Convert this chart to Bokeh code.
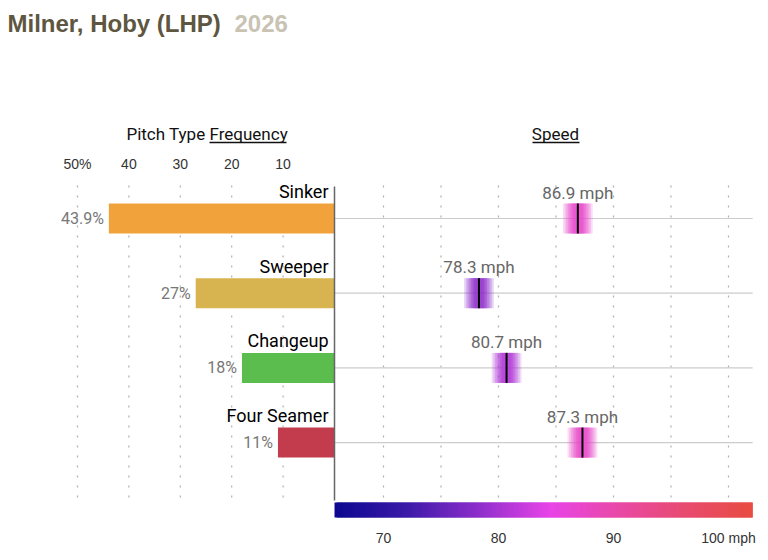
from bokeh.plotting import figure
from bokeh.models import Range1d, ColumnDataSource
from bokeh.core.properties import value
from bokeh.embed import file_html
from bokeh.resources import INLINE

# ---------------- data ----------------
pitch_types = ["Sinker", "Sweeper", "Changeup", "Four Seamer"]
frequency = [43.9, 27, 18, 11]
freq_labels = ["43.9%", "27%", "18%", "11%"]
speed = [86.9, 78.3, 80.7, 87.3]
bar_colors = ["#f2a23a", "#d7b450", "#5bbd4d", "#c23c4e"]

freq_ticks = [50, 40, 30, 20, 10]
freq_tick_labels = ["50%", "40", "30", "20", "10"]
speed_grid = [70, 75, 80, 85, 90, 95, 100]
speed_ticks = [70, 80, 90, 100]
speed_tick_labels = ["70", "80", "90", "100 mph"]

title_main = "Milner, Hoby (LHP)"
title_year = "2026"

# colour scale for speed
SPEED_MIN, SPEED_MAX = 65.74, 102.1
cmap_stops = [(65.74, "#0b0890"), (72.0, "#3b1aa8"), (78.0, "#8a2dca"),
              (84.5, "#e844e8"), (90.0, "#e849aa"), (96.0, "#e84b72"),
              (102.1, "#e84c40")]


def hex2rgb(h):
    h = h.lstrip("#")
    return tuple(int(h[i:i + 2], 16) for i in (0, 2, 4))


def speed_color(v):
    v = min(max(v, cmap_stops[0][0]), cmap_stops[-1][0])
    for (a, ca), (b, cb) in zip(cmap_stops[:-1], cmap_stops[1:]):
        if a <= v <= b:
            t = (v - a) / (b - a)
            r1, g1, b1 = hex2rgb(ca)
            r2, g2, b2 = hex2rgb(cb)
            return "#%02x%02x%02x" % (round(r1 + (r2 - r1) * t),
                                       round(g1 + (g2 - g1) * t),
                                       round(b1 + (b2 - b1) * t))
    return cmap_stops[-1][1]


# ---------------- layout helpers (picture pixels -> data) ----------------
ROW0, ROW_STEP = 218.0, 74.7
PX_PER_PCT, ZERO_X = 5.14, 334.0
PX_PER_MPH, X70 = 11.5, 383.0


def Y(py):
    return (py - ROW0) / ROW_STEP


def FX(px):
    return (ZERO_X - px) / PX_PER_PCT


def SX(px):
    return 70 + (px - X70) / PX_PER_MPH


W, H = 760, 552
p = figure(width=W, height=H, output_backend="svg", toolbar_location=None,
           x_range=Range1d(FX(0), FX(W)),
           y_range=Range1d(Y(H), Y(0)),
           min_border=0, min_border_left=0, min_border_right=0,
           min_border_top=0, min_border_bottom=0)
p.extra_x_ranges = {"speed": Range1d(SX(0), SX(W))}
p.xaxis.visible = False
p.yaxis.visible = False
p.xgrid.visible = False
p.ygrid.visible = False
p.outline_line_color = None
p.background_fill_color = "white"
p.border_fill_color = "white"

rows = list(range(len(pitch_types)))
BAR_H = 30 / ROW_STEP
grid_top, grid_bot = Y(185), Y(500)

# dotted grid lines
p.segment(x0=freq_ticks, x1=freq_ticks, y0=[grid_top] * len(freq_ticks),
          y1=[grid_bot] * len(freq_ticks), line_color="#b0b0b0",
          line_width=1.2, line_dash="2 8")
p.segment(x0=speed_grid, x1=speed_grid, y0=[grid_top] * len(speed_grid),
          y1=[grid_bot] * len(speed_grid), line_color="#b0b0b0",
          line_width=1.2, line_dash="2 8", x_range_name="speed")

# horizontal row lines (speed side)
p.segment(x0=[SPEED_MIN] * len(rows), x1=[SPEED_MAX] * len(rows), y0=rows,
          y1=rows, line_color="#cccccc", line_width=1.2, x_range_name="speed")

# frequency bars
src = ColumnDataSource(dict(y=rows, f=frequency, c=bar_colors, lab=freq_labels,
                            name=pitch_types, s=speed,
                            slab=["%.1f mph" % v for v in speed],
                            sc=[speed_color(v) for v in speed],
                            y0=[r - BAR_H / 2 for r in rows],
                            y1=[r + BAR_H / 2 for r in rows]))
p.hbar(y="y", left=0, right="f", height=BAR_H, fill_color="c",
       line_color=None, source=src)

# central axis line
p.segment(x0=[0], x1=[0], y0=[Y(186)], y1=[Y(500)], line_color="#666666",
          line_width=1.5)

# percent labels
p.text(x="f", y="y", text="lab", source=src, x_offset=-5,
       text_align="right", text_baseline="middle", text_font=value("Roboto"),
       text_font_size="16px", text_font_style="normal", text_color="#777777")

# pitch names
p.text(x=[FX(328)] * len(rows), y=rows, text=pitch_types, y_offset=-27,
       text_align="right", text_baseline="middle",
       text_font=value("Roboto"), text_font_size="18px",
       text_font_style="normal", text_color="#000000")

# speed markers: soft-edged blocks coloured by speed
for wmph, alpha in [(2.6, 0.18), (2.3, 0.2), (2.0, 0.22), (1.7, 0.25),
                    (1.4, 0.3), (1.1, 0.35), (0.8, 0.4)]:
    p.rect(x="s", y="y", width=wmph, height=BAR_H, fill_color="sc",
           fill_alpha=alpha, line_color=None, source=src,
           x_range_name="speed")
p.segment(x0="s", x1="s", y0="y0", y1="y1", line_color="black",
          line_width=2, source=src, x_range_name="speed")
p.text(x="s", y="y", text="slab", source=src, y_offset=-26,
       text_align="center", text_baseline="middle",
       text_font=value("Roboto"), text_font_size="17px",
       text_color="#666666", x_range_name="speed")

# colour bar
step = 0.2
n = int((SPEED_MAX - SPEED_MIN) / step) + 1
lefts = [SPEED_MIN + i * step for i in range(n)]
rights = [min(l + 2 * step, SPEED_MAX) for l in lefts]
cols = [speed_color(l + step / 2) for l in lefts]
p.quad(left=lefts, right=rights, bottom=[Y(517)] * n, top=[Y(502)] * n,
       fill_color=cols, line_color=None, x_range_name="speed")

# colour bar tick labels
p.text(x=speed_ticks, y=[Y(537)] * len(speed_ticks), text=speed_tick_labels,
       text_align="center", text_baseline="middle",
       text_font=value("Liberation Sans"), text_font_size="14px",
       text_color="#333333", x_range_name="speed")

# frequency tick labels
p.text(x=freq_ticks, y=[Y(163)] * len(freq_ticks), text=freq_tick_labels,
       text_align="center", text_baseline="middle",
       text_font=value("Liberation Sans"), text_font_size="14px",
       text_color="#333333")

# headers
p.text(x=[FX(205)], y=[Y(133)], text=["Pitch Type"], text_align="right",
       text_baseline="middle", text_font=value("Roboto"),
       text_font_size="17px", text_color="#111111")
p.text(x=[FX(209)], y=[Y(133)], text=["Frequency"], text_align="left",
       text_baseline="middle", text_font=value("Roboto"),
       text_font_size="17px", text_color="#111111")
p.segment(x0=[FX(209)], x1=[FX(286)], y0=[Y(142)], y1=[Y(142)],
          line_color="#111111", line_width=1.3)
p.text(x=[SX(555)], y=[Y(133)], text=["Speed"], text_align="center",
       text_baseline="middle", text_font=value("Roboto"),
       text_font_size="17px", text_color="#111111", x_range_name="speed")
p.segment(x0=[SX(532)], x1=[SX(579)], y0=[Y(142)], y1=[Y(142)],
          line_color="#111111", line_width=1.3, x_range_name="speed")

# title
p.text(x=[FX(7)], y=[Y(22.5)], text=[title_main], text_align="left",
       text_baseline="middle", text_font=value("Liberation Sans"),
       text_font_size="24px", text_font_style="bold", text_color="#5e5640")
p.text(x=[FX(234)], y=[Y(22.5)], text=[title_year], text_align="left",
       text_baseline="middle", text_font=value("Liberation Sans"),
       text_font_size="24px", text_font_style="bold", text_color="#c9c3b4")

open("out.html", "w").write(file_html(p, INLINE))
